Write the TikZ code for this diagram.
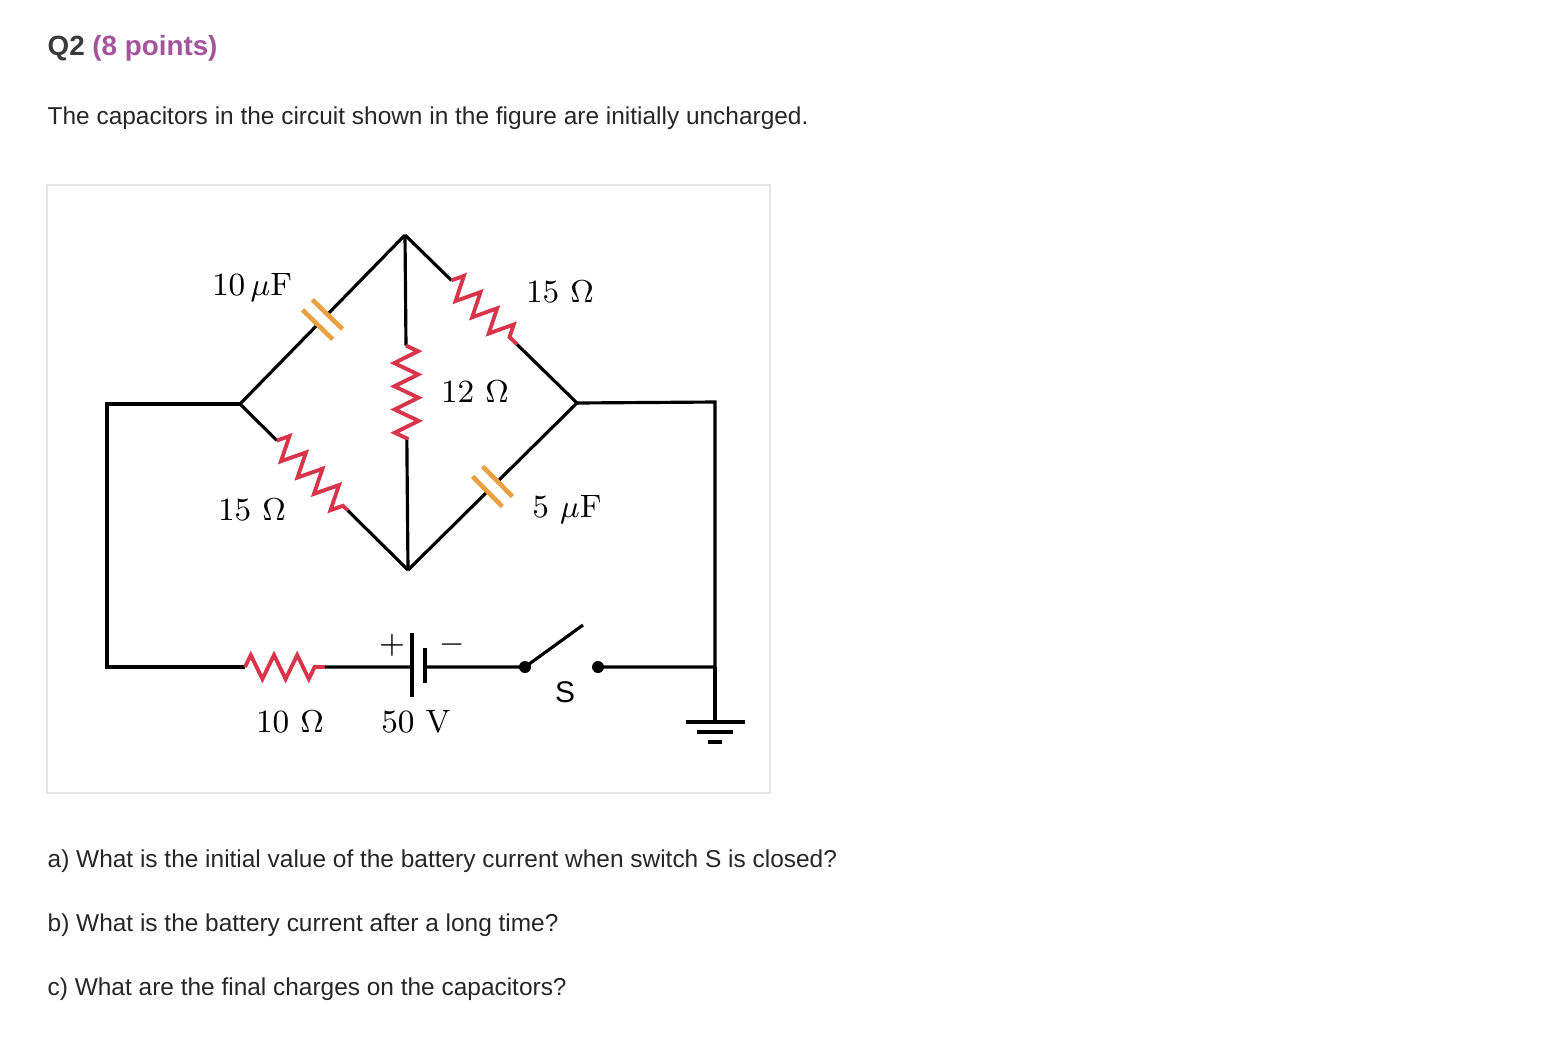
\documentclass[tikz,border=0pt]{standalone}
\usepackage{fontspec}
\setmainfont{Liberation Sans}
\newfontfamily\circfont{Latin Modern Roman}
\usetikzlibrary{calc,decorations.pathmorphing}
\definecolor{titlegray}{HTML}{3A3A3A}
\definecolor{ptspurple}{HTML}{A2559C}
\definecolor{capcol}{HTML}{E8A040}
\definecolor{rescol}{HTML}{D8344A}
\tikzset{
  wire/.style={line width=0.9pt},
  res/.style={rescol,line width=1.1pt,decorate,decoration={zigzag,segment length=6.6pt,amplitude=3.4pt}},
  plate/.style={capcol,line width=1.3pt},
  lbl/.style={font=\circfont\fontsize{9.2pt}{10pt}\selectfont,inner sep=0pt},
  txt/.style={anchor=west,inner sep=0pt,text=black!85,font=\fontsize{6.95pt}{8pt}\selectfont}
}
\begin{document}
\begin{tikzpicture}[x=0.01cm,y=-0.01cm]
  \useasboundingbox (0,0) rectangle (1564,1042);
  % heading and question text
  \node[anchor=west,inner sep=0pt,font=\bfseries\fontsize{7.9pt}{9pt}\selectfont] (q) at (47,48)
    {\textcolor{titlegray}{Q2} \textcolor{ptspurple}{(8 points)}};
  \node[txt] (intro) at (47,118) {The capacitors in the circuit shown in the figure are initially uncharged.};
  \node[txt] (qa) at (47,861) {a) What is the initial value of the battery current when switch S is closed?};
  \node[txt] (qb) at (47,925) {b) What is the battery current after a long time?};
  \node[txt] (qc) at (47,989) {c) What are the final charges on the capacitors?};
  \draw[black!10] (47,185) rectangle (770,793);
  % bridge corners
  \coordinate (top) at (405,235);
  \coordinate (lft) at (240,404);
  \coordinate (bot) at (408,570);
  \coordinate (rgt) at (577,403);
  \coordinate (ul) at (107,404);
  \coordinate (dl) at (107,667);
  \coordinate (ur) at (715,402);
  \coordinate (dr) at (715,667);
  \coordinate (gnd) at (715,722);
  % 10 uF
  \coordinate (c1a) at ($(top)!0.47!(lft)$);
  \coordinate (c1b) at ($(top)!0.53!(lft)$);
  \draw[wire] (top) -- (c1a) (c1b) -- (lft);
  \draw[plate] ($(c1a)!6pt!90:(top)$) -- ($(c1a)!6pt!-90:(top)$);
  \draw[plate] ($(c1b)!6pt!90:(top)$) -- ($(c1b)!6pt!-90:(top)$);
  % 15 ohm top right
  \coordinate (r1a) at ($(top)!0.27!(rgt)$);
  \coordinate (r1b) at ($(top)!0.65!(rgt)$);
  \draw[wire] (top) -- (r1a) (r1b) -- (rgt);
  \draw[res] (r1a) -- (r1b);
  % 12 ohm middle
  \coordinate (r2a) at ($(top)!0.33!(bot)$);
  \coordinate (r2b) at ($(top)!0.61!(bot)$);
  \draw[wire] (top) -- (r2a) (r2b) -- (bot);
  \draw[res] (r2a) -- (r2b);
  % 15 ohm lower left
  \coordinate (r3a) at ($(lft)!0.22!(bot)$);
  \coordinate (r3b) at ($(lft)!0.64!(bot)$);
  \draw[wire] (lft) -- (r3a) (r3b) -- (bot);
  \draw[res] (r3a) -- (r3b);
  % 5 uF
  \coordinate (c2a) at ($(bot)!0.47!(rgt)$);
  \coordinate (c2b) at ($(bot)!0.53!(rgt)$);
  \draw[wire] (bot) -- (c2a) (c2b) -- (rgt);
  \draw[plate] ($(c2a)!6pt!90:(bot)$) -- ($(c2a)!6pt!-90:(bot)$);
  \draw[plate] ($(c2b)!6pt!90:(bot)$) -- ($(c2b)!6pt!-90:(bot)$);
  % outer loop
  \coordinate (r4a) at (245,667);
  \coordinate (r4b) at (325,667);
  \coordinate (bp) at (412,667);
  \coordinate (bn) at (425,667);
  \coordinate (sw1) at (525,667);
  \coordinate (sw2) at (598,667);
  \coordinate (blade) at (583,625);
  \draw[wire] (lft) -- (ul) -- (dl) -- (r4a);
  \draw[res] (r4a) -- (r4b);
  \draw[wire] (r4b) -- (bp) (bn) -- (sw1) -- (blade);
  \draw[wire] (sw2) -- (dr) -- (ur) -- (rgt);
  \fill (sw1) circle (6) (sw2) circle (6);
  \draw[line width=1.4pt] (412,633) -- (412,697);
  \draw[line width=1.4pt] (425,648) -- (425,683);
  % ground
  \draw[wire] (dr) -- (gnd);
  \draw[wire] (686,722) -- (745,722) (697,732) -- (733,732) (708,742) -- (722,742);
  % labels
  \node[lbl] (l10uf) at (252,288) {10\,$\mu$F};
  \node[lbl] (l15a) at (560,292) {15 $\Omega$};
  \node[lbl] (l12) at (475,392) {12 $\Omega$};
  \node[lbl] (l15b) at (252,510) {15 $\Omega$};
  \node[lbl] (l5uf) at (567,510) {5 $\mu$F};
  \node[lbl] (l10) at (290,722) {10 $\Omega$};
  \node[lbl] (l50) at (416,722) {50 V};
  \node[lbl,font=\fontsize{8.5pt}{9pt}\selectfont] (ls) at (565,692) {S};
  \node[lbl] (lp) at (392,645) {+};
  \node[lbl] (lm) at (452,645) {$-$};
\end{tikzpicture}
\end{document}
